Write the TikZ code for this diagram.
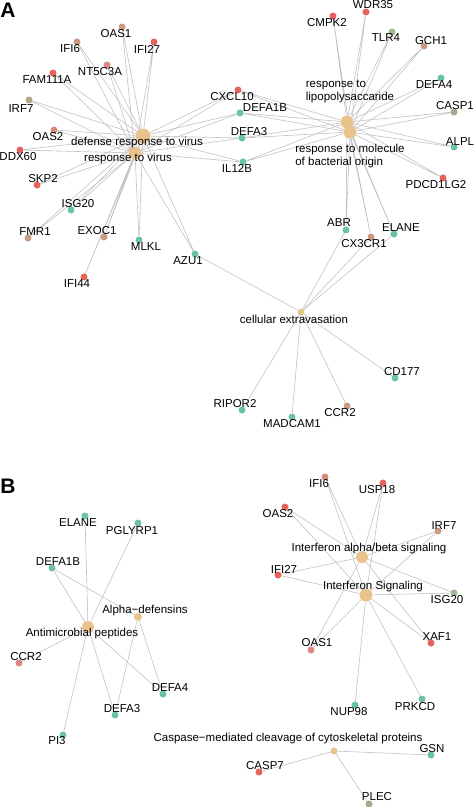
\documentclass[tikz,border=0pt]{standalone}
\usepackage{fontspec}
\setmainfont{Liberation Sans}
\usetikzlibrary{backgrounds}

\definecolor{hubc}{HTML}{E9C38E}
\definecolor{grn}{HTML}{6CC3A0}
\definecolor{rd}{HTML}{E8625C}
\definecolor{brn}{HTML}{C99C82}
\definecolor{salm}{HTML}{D98A7E}
\definecolor{olv}{HTML}{ABA68C}
\definecolor{sage}{HTML}{9DB896}
\definecolor{edgec}{HTML}{C2C2C2}

% gene dot plus its label: name, dot, label, colour, text
\newcommand{\genedot}[5]{%
  \node[gene, fill=#4] (#1) at (#2) {};
  \node[lbl] (#1-t) at (#3) {#5};}

\begin{document}
\begin{tikzpicture}[x=1pt, y=-1pt,
    gene/.style={circle, inner sep=0pt, minimum size=7pt},
    hub/.style={circle, fill=hubc, inner sep=0pt},
    lbl/.style={inner sep=0pt, font=\fontsize{11.5}{13}\selectfont},
    link/.style={draw=edgec, line width=0.6pt},
    panel/.style={inner sep=0pt, font=\bfseries\fontsize{21}{21}\selectfont}]
    \useasboundingbox (0,0) rectangle (474,807);

    % Panel A
    \node[panel] (pA) at (8,10) {A};
    \node[hub, minimum size=15pt] (dv) at (143,136) {};
    \node[hub, minimum size=13pt] (rv) at (135,153) {};
    \node[hub, minimum size=13pt] (lps) at (347,122) {};
    \node[hub, minimum size=13pt] (mbo) at (350,132) {};
    \node[hub, minimum size=7pt] (ce) at (301,312) {};
    \node[lbl] (dv-t) at (137,143) {defense response to virus};
    \node[lbl] (rv-t) at (128,159) {response to virus};
    \node[lbl, align=left] (lps-t) at (350,91) {response to\\lipopolysaccaride};
    \node[lbl, align=left] (mbo-t) at (350,156) {response to molecule\\of bacterial origin};
    \node[lbl] (ce-t) at (294,319) {cellular extravasation};

    \genedot{OAS1a}{122,27}{116,34}{brn}{OAS1}
    \genedot{IFI6a}{77,42}{70,49}{brn}{IFI6}
    \genedot{IFI27a}{154,42}{147,49}{rd}{IFI27}
    \genedot{NT5C3Aa}{107,65}{100,72}{salm}{NT5C3A}
    \genedot{FAM111Aa}{53,73}{47,80}{rd}{FAM111A}
    \genedot{IRF7a}{29,100}{21,109}{olv}{IRF7}
    \genedot{OAS2a}{54,130}{48,137}{salm}{OAS2}
    \genedot{DDX60a}{20,150}{18,157}{rd}{DDX60}
    \genedot{SKP2a}{37,185}{43,179}{rd}{SKP2}
    \genedot{ISG20a}{71,210}{78,204}{grn}{ISG20}
    \genedot{FMR1a}{28,238}{35,232}{brn}{FMR1}
    \genedot{EXOC1a}{104,237}{97,231}{brn}{EXOC1}
    \genedot{IFI44a}{84,277}{77,284}{rd}{IFI44}
    \genedot{MLKLa}{139,240}{146,247}{grn}{MLKL}
    \genedot{AZU1a}{195,254}{188,261}{grn}{AZU1}
    \genedot{CXCL10a}{238,90}{232,97}{rd}{CXCL10}
    \genedot{DEFA1Ba}{240,113}{265,108}{grn}{DEFA1B}
    \genedot{DEFA3a}{242,138}{249,132}{grn}{DEFA3}
    \genedot{IL12Ba}{243,162}{237,168}{grn}{IL12B}
    \genedot{CMPK2a}{333,16}{327,23}{rd}{CMPK2}
    \genedot{WDR35a}{366,12}{373,5}{rd}{WDR35}
    \genedot{TLR4a}{392,32}{386,38}{sage}{TLR4}
    \genedot{GCH1a}{424,46}{431,41}{brn}{GCH1}
    \genedot{DEFA4a}{441,78}{434,85}{grn}{DEFA4}
    \genedot{CASP1a}{454,112}{455,106}{olv}{CASP1}
    \genedot{ALPLa}{454,147}{460,142}{grn}{ALPL}
    \genedot{PDCD1LG2a}{443,178}{436,185}{rd}{PDCD1LG2}
    \genedot{ABRa}{346,230}{339,223}{grn}{ABR}
    \genedot{CX3CR1a}{371,237}{364,244}{brn}{CX3CR1}
    \genedot{ELANEa}{394,234}{401,228}{grn}{ELANE}
    \genedot{CD177a}{395,378}{402,372}{grn}{CD177}
    \genedot{RIPOR2a}{242,410}{235,404}{grn}{RIPOR2}
    \genedot{MADCAM1a}{292,417}{292,424}{grn}{MADCAM1}
    \genedot{CCR2a}{347,406}{340,413}{brn}{CCR2}

    % Panel B
    \node[panel] (pB) at (8,486) {B};
    \node[hub, minimum size=12pt] (amp) at (88,627) {};
    \node[hub, minimum size=8pt] (adef) at (138,617) {};
    \node[hub, minimum size=12pt] (ifab) at (362,557) {};
    \node[hub, minimum size=13pt] (ifs) at (366,595) {};
    \node[hub, minimum size=7pt] (casp) at (334,751) {};
    \node[lbl] (amp-t) at (82,634) {Antimicrobial peptides};
    \node[lbl] (adef-t) at (145,611) {Alpha−defensins};
    \node[lbl] (ifab-t) at (369,549) {Interferon alpha/beta signaling};
    \node[lbl] (ifs-t) at (373,587) {Interferon Signaling};
    \node[lbl] (casp-t) at (288,739) {Caspase−mediated cleavage of cytoskeletal proteins};

    \genedot{ELANEb}{85,516}{78,523}{grn}{ELANE}
    \genedot{PGLYRP1b}{138,523}{132,531}{grn}{PGLYRP1}
    \genedot{DEFA1Bb}{52,568}{58,562}{grn}{DEFA1B}
    \genedot{CCR2b}{19,663}{26,657}{salm}{CCR2}
    \genedot{DEFA4b}{163,694}{170,688}{grn}{DEFA4}
    \genedot{DEFA3b}{115,715}{122,709}{grn}{DEFA3}
    \genedot{PI3b}{63,735}{57,741}{grn}{PI3}
    \genedot{IFI6b}{325,477}{319,484}{salm}{IFI6}
    \genedot{USP18b}{383,483}{377,490}{rd}{USP18}
    \genedot{OAS2b}{285,507}{278,514}{rd}{OAS2}
    \genedot{IRF7b}{438,531}{444,526}{brn}{IRF7}
    \genedot{IFI27b}{278,575}{284,569}{rd}{IFI27}
    \genedot{ISG20b}{454,593}{447,600}{sage}{ISG20}
    \genedot{XAF1b}{431,643}{437,637}{rd}{XAF1}
    \genedot{OAS1b}{311,650}{317,643}{salm}{OAS1}
    \genedot{NUP98b}{355,705}{349,712}{grn}{NUP98}
    \genedot{PRKCDb}{422,699}{415,707}{grn}{PRKCD}
    \genedot{GSNb}{431,755}{432,749}{grn}{GSN}
    \genedot{CASP7b}{259,772}{265,766}{rd}{CASP7}
    \genedot{PLECb}{369,804}{377,797}{olv}{PLEC}

    % Connectors
    \begin{scope}[on background layer]
        \foreach \g in {OAS1a,IFI6a,IFI27a,NT5C3Aa,FAM111Aa,IRF7a,OAS2a,DDX60a,SKP2a,ISG20a,FMR1a,EXOC1a,IFI44a,MLKLa,AZU1a,CXCL10a,DEFA1Ba,DEFA3a,IL12Ba}
            \draw[link] (\g) -- (dv) (\g) -- (rv);
        \foreach \g in {CXCL10a,DEFA1Ba,DEFA3a,IL12Ba,CMPK2a,WDR35a,TLR4a,GCH1a,DEFA4a,CASP1a,ALPLa,PDCD1LG2a,ABRa,CX3CR1a,ELANEa}
            \draw[link] (\g) -- (lps) (\g) -- (mbo);
        \foreach \g in {AZU1a,ABRa,CX3CR1a,ELANEa,CD177a,RIPOR2a,MADCAM1a,CCR2a}
            \draw[link] (\g) -- (ce);
        \foreach \g in {ELANEb,PGLYRP1b,DEFA1Bb,CCR2b,DEFA4b,DEFA3b,PI3b}
            \draw[link] (\g) -- (amp);
        \foreach \g in {DEFA1Bb,DEFA4b,DEFA3b}
            \draw[link] (\g) -- (adef);
        \foreach \g in {IFI6b,USP18b,OAS2b,IRF7b,IFI27b,ISG20b,XAF1b,OAS1b}
            \draw[link] (\g) -- (ifab) (\g) -- (ifs);
        \foreach \g in {NUP98b,PRKCDb}
            \draw[link] (\g) -- (ifs);
        \foreach \g in {GSNb,CASP7b,PLECb}
            \draw[link] (\g) -- (casp);
    \end{scope}
\end{tikzpicture}
\end{document}
